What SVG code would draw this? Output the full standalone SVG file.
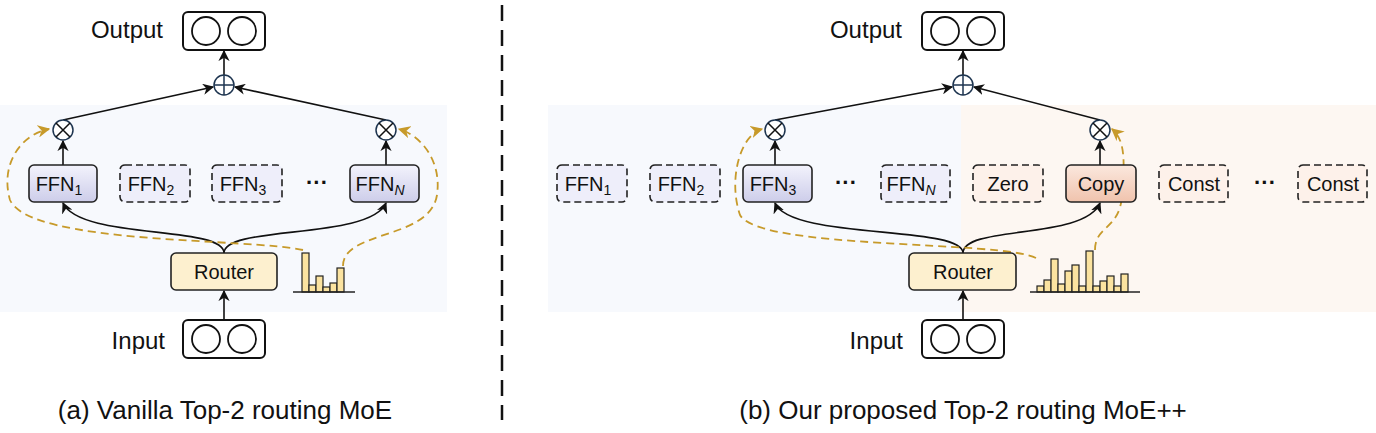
<svg xmlns="http://www.w3.org/2000/svg" width="1376" height="433" viewBox="0 0 1376 433">
<style>
text{font-family:"Liberation Sans",Arial,sans-serif;fill:#111}
.lbl{font-size:24px}
.cap{font-size:26px;text-anchor:middle}
.ft{font-size:20px;text-anchor:middle}
.sub{font-size:14px}
.vec{fill:#fff;stroke:#111;stroke-width:2}
.sol{stroke:#222;stroke-width:1.6}
.dsh{stroke:#222;stroke-width:1.6;stroke-dasharray:7 4}
.op{fill:#fff;stroke:#1e3550;stroke-width:1.5}
.ln{fill:none;stroke:#111;stroke-width:1.6}
.gd{fill:none;stroke:#c79a2a;stroke-width:1.8;stroke-dasharray:8 5}
.bar{fill:#fbe3a0;stroke:#222;stroke-width:1.2}
.dots{font-size:22px;text-anchor:middle;font-weight:bold}
</style>
<defs>
<marker id="ah" viewBox="0 0 10 10" refX="9" refY="5" markerWidth="7" markerHeight="7" orient="auto-start-reverse"><path d="M0,0L10,5L0,10L3,5z" fill="#111"/></marker>
<marker id="ag" viewBox="0 0 10 10" refX="9" refY="5" markerWidth="7" markerHeight="7" orient="auto"><path d="M0,0L10,5L0,10L3,5z" fill="#c79a2a"/></marker>
<linearGradient id="gf" x1="0" y1="0" x2="0" y2="1"><stop offset="0" stop-color="#f3f3fc"/><stop offset="1" stop-color="#cdcdea"/></linearGradient>
<linearGradient id="gc" x1="0" y1="0" x2="0" y2="1"><stop offset="0" stop-color="#fbe8de"/><stop offset="1" stop-color="#f0c3ad"/></linearGradient>
</defs>
<rect x="0" y="105" width="447" height="207" fill="#f7f9fd"/>
<rect x="548" y="105" width="413" height="207" fill="#f7f9fd"/>
<rect x="961" y="105" width="415" height="207" fill="#fdf7f2"/>
<line x1="502" y1="5" x2="502" y2="420" stroke="#111" stroke-width="2.5" stroke-dasharray="16 9"/>
<g id="connectors">
<line class="ln" x1="224" y1="75" x2="224" y2="51" marker-end="url(#ah)"/>
<line class="ln" x1="63" y1="120" x2="213" y2="87" marker-end="url(#ah)"/>
<line class="ln" x1="386" y1="120" x2="235" y2="87" marker-end="url(#ah)"/>
<line class="ln" x1="63" y1="165" x2="63" y2="141" marker-end="url(#ah)"/>
<line class="ln" x1="386" y1="165" x2="386" y2="141" marker-end="url(#ah)"/>
<line class="ln" x1="224" y1="320" x2="224" y2="291" marker-end="url(#ah)"/>
<path class="ln" d="M224,253C224,225 80,240 63,203" marker-end="url(#ah)"/>
<path class="ln" d="M224,253C224,225 370,240 386,203" marker-end="url(#ah)"/>
<path class="gd" d="M303,250C250,238 30,245 10,200C0,165 20,135 49,129" marker-end="url(#ag)"/>
<path class="gd" d="M343,266C343,230 430,240 437,195C442,160 420,135 399,129" marker-end="url(#ag)"/>
<line class="ln" x1="963" y1="75" x2="963" y2="51" marker-end="url(#ah)"/>
<line class="ln" x1="775" y1="120" x2="952" y2="87" marker-end="url(#ah)"/>
<line class="ln" x1="1100" y1="120" x2="974" y2="87" marker-end="url(#ah)"/>
<line class="ln" x1="775" y1="165" x2="775" y2="141" marker-end="url(#ah)"/>
<line class="ln" x1="1100" y1="165" x2="1100" y2="141" marker-end="url(#ah)"/>
<line class="ln" x1="963" y1="320" x2="963" y2="291" marker-end="url(#ah)"/>
<path class="ln" d="M963,253C963,225 790,240 775,203" marker-end="url(#ah)"/>
<path class="ln" d="M963,253C963,225 1085,240 1100,203" marker-end="url(#ah)"/>
<path class="gd" d="M1036,258C1000,240 760,250 740,215C728,180 740,135 762,129" marker-end="url(#ag)"/>
<path class="gd" d="M1095,250C1095,225 1120,230 1122,195C1125,160 1125,140 1112,129" marker-end="url(#ag)"/>
</g>
<g id="out-a"><text class="lbl" x="163" y="38" text-anchor="end">Output</text><rect class="vec" x="183" y="12" width="82" height="38" rx="5"/><circle cx="206" cy="31" r="14" fill="none" stroke="#111" stroke-width="1.8"/><circle cx="242" cy="31" r="14" fill="none" stroke="#111" stroke-width="1.8"/></g>
<g id="in-a"><text class="lbl" x="165" y="349" text-anchor="end">Input</text><rect class="vec" x="183" y="320" width="82" height="38" rx="5"/><circle cx="206" cy="339" r="14" fill="none" stroke="#111" stroke-width="1.8"/><circle cx="242" cy="339" r="14" fill="none" stroke="#111" stroke-width="1.8"/></g>
<g id="plus-a"><circle class="op" cx="224" cy="85" r="10"/><path d="M214,85h20M224,75v20" stroke="#1e3550" stroke-width="1.5"/></g>
<g id="mul-a1"><circle class="op" cx="63" cy="130" r="10"/><path d="M56,123l14,14M70,123l-14,14" stroke="#111" stroke-width="1.5"/></g>
<g id="mul-a2"><circle class="op" cx="386" cy="130" r="10"/><path d="M379,123l14,14M393,123l-14,14" stroke="#111" stroke-width="1.5"/></g>
<g id="ffn-a1"><rect class="sol" x="29" y="165" width="68" height="37" rx="5" fill="url(#gf)"/><text class="ft" x="59" y="191">FFN<tspan class="sub" dy="4">1</tspan></text></g>
<g id="ffn-a2"><rect class="dsh" x="120" y="165" width="70" height="37" rx="5" fill="#eeeefa"/><text class="ft" x="151" y="191">FFN<tspan class="sub" dy="4">2</tspan></text></g>
<g id="ffn-a3"><rect class="dsh" x="212" y="165" width="70" height="37" rx="5" fill="#eeeefa"/><text class="ft" x="243" y="191">FFN<tspan class="sub" dy="4">3</tspan></text></g>
<text class="dots" x="317" y="190">···</text>
<g id="ffn-aN"><rect class="sol" x="350" y="165" width="69" height="37" rx="5" fill="url(#gf)"/><text class="ft" x="380" y="191">FFN<tspan class="sub" dy="4" font-style="italic">N</tspan></text></g>
<g id="router-a"><rect class="sol" x="171" y="253" width="106" height="37" rx="5" fill="#fdf0cf"/><text class="ft" x="224" y="279" font-size="22">Router</text></g>
<g id="hist-a">
<rect class="bar" x="302" y="253" width="7" height="39"/><rect class="bar" x="309" y="285" width="7" height="7"/><rect class="bar" x="316" y="276" width="7" height="16"/><rect class="bar" x="323" y="287" width="7" height="5"/><rect class="bar" x="330" y="283" width="7" height="9"/><rect class="bar" x="337" y="268" width="7" height="24"/>
<line x1="293" y1="292" x2="355" y2="292" stroke="#222" stroke-width="1.5"/></g>
<text class="cap" x="225" y="419">(a) Vanilla Top-2 routing MoE</text>

<g id="out-b"><text class="lbl" x="902" y="38" text-anchor="end">Output</text><rect class="vec" x="922" y="12" width="82" height="38" rx="5"/><circle cx="945" cy="31" r="14" fill="none" stroke="#111" stroke-width="1.8"/><circle cx="981" cy="31" r="14" fill="none" stroke="#111" stroke-width="1.8"/></g>
<g id="in-b"><text class="lbl" x="903" y="349" text-anchor="end">Input</text><rect class="vec" x="922" y="320" width="82" height="38" rx="5"/><circle cx="945" cy="339" r="14" fill="none" stroke="#111" stroke-width="1.8"/><circle cx="981" cy="339" r="14" fill="none" stroke="#111" stroke-width="1.8"/></g>
<g id="plus-b"><circle class="op" cx="963" cy="85" r="10"/><path d="M953,85h20M963,75v20" stroke="#1e3550" stroke-width="1.5"/></g>
<g id="mul-b1"><circle class="op" cx="775" cy="130" r="10"/><path d="M768,123l14,14M782,123l-14,14" stroke="#111" stroke-width="1.5"/></g>
<g id="mul-b2"><circle class="op" cx="1100" cy="130" r="10"/><path d="M1093,123l14,14M1107,123l-14,14" stroke="#111" stroke-width="1.5"/></g>
<g id="ffn-b1"><rect class="dsh" x="557" y="165" width="70" height="37" rx="5" fill="#eeeefa"/><text class="ft" x="588" y="191">FFN<tspan class="sub" dy="4">1</tspan></text></g>
<g id="ffn-b2"><rect class="dsh" x="650" y="165" width="70" height="37" rx="5" fill="#eeeefa"/><text class="ft" x="681" y="191">FFN<tspan class="sub" dy="4">2</tspan></text></g>
<g id="ffn-b3"><rect class="sol" x="743" y="165" width="69" height="37" rx="5" fill="url(#gf)"/><text class="ft" x="773" y="191">FFN<tspan class="sub" dy="4">3</tspan></text></g>
<text class="dots" x="846" y="190">···</text>
<g id="ffn-bN"><rect class="dsh" x="881" y="165" width="69" height="37" rx="5" fill="#eeeefa"/><text class="ft" x="911" y="191">FFN<tspan class="sub" dy="4" font-style="italic">N</tspan></text></g>
<g id="zero"><rect class="dsh" x="973" y="165" width="70" height="37" rx="5" fill="#fdf1ea"/><text class="ft" x="1008" y="191">Zero</text></g>
<g id="copy"><rect class="sol" x="1066" y="165" width="70" height="37" rx="5" fill="url(#gc)"/><text class="ft" x="1101" y="191">Copy</text></g>
<g id="const1"><rect class="dsh" x="1159" y="165" width="69" height="37" rx="5" fill="#fdf1ea"/><text class="ft" x="1194" y="191">Const</text></g>
<text class="dots" x="1265" y="190">···</text>
<g id="const2"><rect class="dsh" x="1298" y="165" width="69" height="37" rx="5" fill="#fdf1ea"/><text class="ft" x="1333" y="191">Const</text></g>
<g id="router-b"><rect class="sol" x="909" y="253" width="107" height="37" rx="5" fill="#fdf0cf"/><text class="ft" x="963" y="279" font-size="22">Router</text></g>
<g id="hist-b">
<rect class="bar" x="1037" y="286" width="7" height="6"/><rect class="bar" x="1044" y="280" width="7" height="12"/><rect class="bar" x="1051" y="259" width="7" height="33"/><rect class="bar" x="1058" y="284" width="7" height="8"/><rect class="bar" x="1065" y="271" width="7" height="21"/><rect class="bar" x="1072" y="265" width="7" height="27"/><rect class="bar" x="1079" y="286" width="7" height="6"/><rect class="bar" x="1086" y="251" width="7" height="41"/><rect class="bar" x="1093" y="286" width="7" height="6"/><rect class="bar" x="1100" y="281" width="7" height="11"/><rect class="bar" x="1107" y="276" width="7" height="16"/><rect class="bar" x="1114" y="286" width="7" height="6"/><rect class="bar" x="1121" y="274" width="7" height="18"/>
<line x1="1030" y1="292" x2="1140" y2="292" stroke="#222" stroke-width="1.5"/></g>
<text class="cap" x="963" y="419">(b) Our proposed Top-2 routing MoE++</text>
</svg>
